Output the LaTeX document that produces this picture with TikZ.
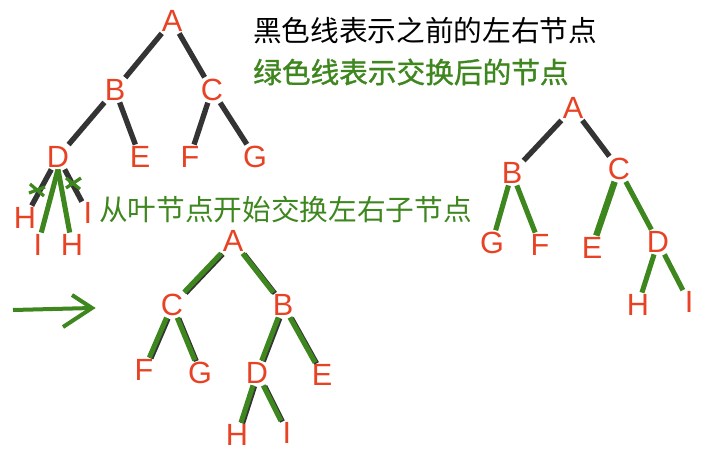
\documentclass[tikz,border=0pt]{standalone}
\usepackage{fontspec}
\setmainfont{Liberation Sans}
\newfontfamily\cjk{Noto Sans CJK SC}
\newfontfamily\cjkmed[FakeBold=1.2]{Noto Sans CJK SC}
\usetikzlibrary{calc}
\definecolor{lettred}{RGB}{232,66,36}
\definecolor{grn}{RGB}{62,134,30}
\definecolor{blk}{RGB}{52,52,52}
\tikzset{
  lett/.style={text=lettred, font=\fontsize{23}{23}\selectfont, inner sep=1.2pt},
  oldedge/.style={draw=blk, line width=4pt},
  newedge/.style={draw=grn, line width=3.8pt},
  shadowedge/.style={draw=blk, line width=3.8pt, transform canvas={shift={(1.2pt,-0.6pt)}}},
  cnote/.style={font=\fontsize{21.5}{21.5}\selectfont, anchor=west, inner sep=0pt},
  xmarkline/.style={draw=grn, line width=2.4pt}
}
\begin{document}
\begin{tikzpicture}[x=0.75pt,y=-0.75pt]
\useasboundingbox (0,0) rectangle (706,450);
% ---------- tree 1 ----------
\node[lett] (A1) at (172,21) {A};
\node[lett] (B1) at (115,90) {B};
\node[lett] (C1) at (212,90) {C};
\node[lett] (D1) at (58,157) {D};
\node[lett] (E1) at (140,157) {E};
\node[lett] (F1) at (190,157) {F};
\node[lett] (G1) at (255,157) {G};
\node[lett] (H1) at (25,218) {H};
\node[lett] (I1) at (88,213) {I};
\node[lett] (I1b) at (38,245) {I};
\node[lett] (H1b) at (72,245) {H};
\draw[oldedge] (A1) -- (B1);
\draw[oldedge] (A1) -- (C1);
\draw[oldedge] (B1) -- (D1);
\draw[oldedge] (B1) -- (E1);
\draw[oldedge] (C1) -- (F1);
\draw[oldedge] (C1) -- (G1);
\draw[oldedge] (D1) -- (H1);
\draw[oldedge] (D1) -- (I1);
\draw[newedge] (D1.south) -- (I1b);
\draw[newedge] (D1.south) -- (H1b);
% cross marks
\draw[xmarkline] (30,184) -- (44,196) (29,193) -- (45,187);
\draw[xmarkline] (66,178) -- (80,189) (66,188) -- (81,178);
% ---------- notes ----------
\node[cnote, text=black] (t1) at (253,31) {\cjk 黑色线表示之前的左右节点};
\node[cnote, text=grn] (t2) at (253,72) {\cjkmed 绿色线表示交换后的节点};
\node[cnote, text=grn] (t3) at (99,210) {\cjk 从叶节点开始交换左右子节点};
% ---------- arrow ----------
\coordinate (arS) at (13,310);
\coordinate (arE) at (92,308);
\coordinate (arU) at (72,295);
\coordinate (arD) at (63,327);
\draw[draw=grn, line width=3pt] (arS) -- (arE);
\draw[draw=grn, line width=3pt, line join=miter] (arU) -- (arE) -- (arD);
% ---------- tree 2 ----------
\node[lett] (A2) at (233,241) {A};
\node[lett] (C2) at (172,305) {C};
\node[lett] (B2) at (283,305) {B};
\node[lett] (F2) at (144,370) {F};
\node[lett] (G2) at (200,373) {G};
\node[lett] (D2) at (257,373) {D};
\node[lett] (E2) at (322,375) {E};
\node[lett] (H2) at (237,435) {H};
\node[lett] (I2) at (287,433) {I};
\foreach \u/\v in {A2/C2, A2/B2, C2/F2, C2/G2, B2/D2, B2/E2, D2/H2, D2/I2}{
  \draw[shadowedge] (\u) -- (\v);
  \draw[newedge] (\u) -- (\v);
}
% ---------- tree 3 ----------
\node[lett] (A3) at (573,108) {A};
\node[lett] (B3) at (512,173) {B};
\node[lett] (C3) at (619,169) {C};
\node[lett] (G3) at (492,243) {G};
\node[lett] (F3) at (540,245) {F};
\node[lett] (E3) at (592,248) {E};
\node[lett] (D3) at (658,242) {D};
\node[lett] (H3) at (638,305) {H};
\node[lett] (I3) at (689,302) {I};
\draw[oldedge] (A3) -- (B3);
\draw[oldedge] (A3) -- (C3);
\draw[newedge] (B3) -- (G3);
\draw[newedge] (B3) -- (F3);
\draw[newedge, line width=4.8pt] (C3) -- (E3);
\draw[newedge] (C3) -- (D3);
\draw[newedge] (D3) -- (H3);
\draw[newedge] (D3) -- (I3);
\end{tikzpicture}
\end{document}
